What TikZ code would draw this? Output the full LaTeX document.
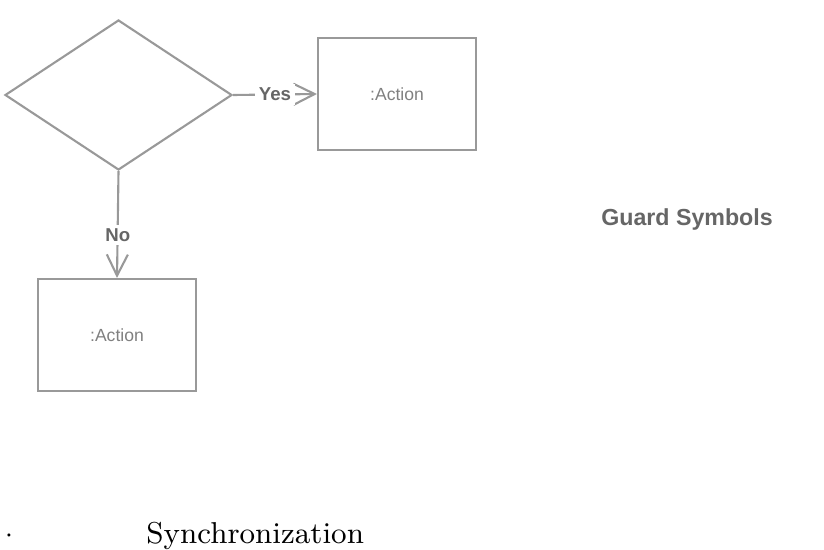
\documentclass[tikz,border=0pt]{standalone}
\usepackage{fontspec}
\setsansfont{Liberation Sans}
\usetikzlibrary{shapes.geometric,arrows.meta,positioning}
\tikzset{
  grayline/.style={draw=black!40, line width=0.6pt},
  actionbox/.style={grayline, minimum width=1.58cm, minimum height=1.12cm,
    font=\sffamily\fontsize{5}{6}\selectfont, text=black!50},
  choice/.style={grayline, diamond, minimum width=2.27cm, minimum height=1.5cm, inner sep=0pt},
  guardarrow/.style={grayline, -{Straight Barb[open,length=6pt,width=6pt]}},
  guardlabel/.style={font=\sffamily\bfseries\fontsize{5.3}{6}\selectfont, text=black!60}
}
\begin{document}
\begin{tikzpicture}
  \useasboundingbox (0,0) rectangle (8.24,-5.49);

  % decision and its two outcomes
  \node[choice] (decide) at (1.185,-0.95) {};
  \node[actionbox] (yesact) at (3.97,-0.94) {:Action};
  \node[actionbox] (noact) at (1.17,-3.35) {:Action};

  \draw[guardarrow] (decide.east) -- node[fill=white, inner sep=1pt, guardlabel] {Yes} (yesact.west);
  \draw[guardarrow] (decide.south) -- node[fill=white, inner sep=1pt, guardlabel, yshift=-3pt] {No} (noact.north);

  \node[guardlabel, font=\sffamily\bfseries\fontsize{6.6}{8}\selectfont] (title) at (6.87,-2.2) {Guard Symbols};

  % bullet line
  \node[font=\fontsize{8.5}{10}\selectfont] (dot) at (0.09,-5.36) {$\cdot$};
  \node[anchor=west, font=\fontsize{8.6}{10}\selectfont] (sync) at (1.34,-5.36) {Synchronization};
\end{tikzpicture}
\end{document}
